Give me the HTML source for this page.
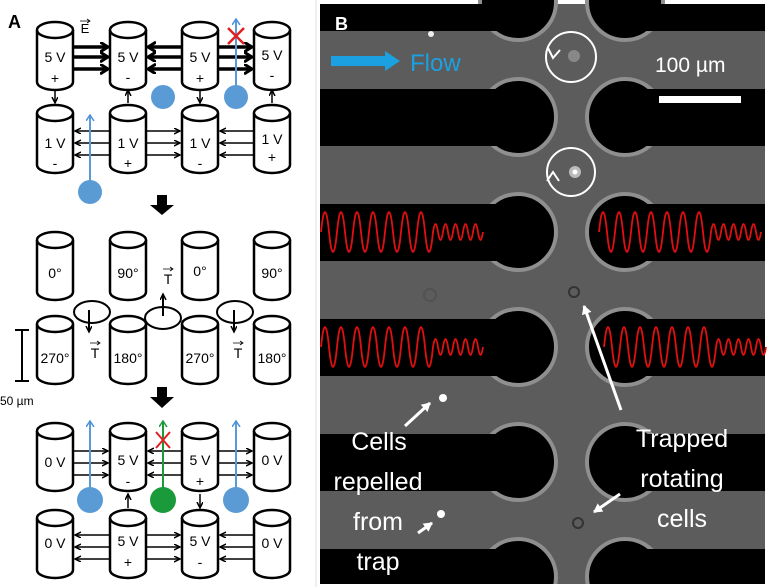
<!DOCTYPE html>
<html><head><meta charset="utf-8"><style>
body{margin:0;background:#fff}
svg{display:block}
text{font-family:"Liberation Sans",sans-serif}
</style></head><body>
<svg width="768" height="587" viewBox="0 0 768 587" xmlns="http://www.w3.org/2000/svg">
<defs>
<g id="cyl"><path d="M0,8 V60 A18,8 0 0 0 36,60 V8" fill="#fff" stroke="#000" stroke-width="2.5"/><ellipse cx="18" cy="8" rx="18" ry="8" fill="#fff" stroke="#000" stroke-width="2.5"/></g>
<marker id="ah" markerWidth="8" markerHeight="8" refX="6" refY="3" orient="auto" markerUnits="userSpaceOnUse"><path d="M0,0 L6,3 L0,6" fill="none" stroke="#000" stroke-width="1.5"/></marker>
<marker id="ahT" markerWidth="12" markerHeight="12" refX="8" refY="5" orient="auto" markerUnits="userSpaceOnUse"><path d="M0,0 L8,5 L0,10" fill="none" stroke="#000" stroke-width="3"/></marker>
<marker id="ahB" markerWidth="12" markerHeight="12" refX="6" refY="4" orient="auto" markerUnits="userSpaceOnUse"><path d="M0,0 L6,4 L0,8" fill="none" stroke="#4a90d9" stroke-width="1.5"/></marker>
<marker id="ahG" markerWidth="12" markerHeight="12" refX="6" refY="4" orient="auto" markerUnits="userSpaceOnUse"><path d="M0,0 L6,4 L0,8" fill="none" stroke="#1a9a3a" stroke-width="1.5"/></marker>
<marker id="ahW" markerWidth="14" markerHeight="14" refX="8" refY="5" orient="auto" markerUnits="userSpaceOnUse"><path d="M0,0 L9,5 L0,10 Z" fill="#fff"/></marker>
</defs>

<!-- PANEL A -->
<text x="8" y="28" font-size="18" font-weight="bold">A</text>
<!-- Section 1 -->
<g>
<use href="#cyl" x="37" y="22"/><use href="#cyl" x="110" y="22"/><use href="#cyl" x="182" y="22"/><use href="#cyl" x="254" y="22"/>
<use href="#cyl" x="37" y="105"/><use href="#cyl" x="110" y="105"/><use href="#cyl" x="182" y="105"/><use href="#cyl" x="254" y="105"/>
<g font-size="14" text-anchor="middle">
<text x="55" y="62">5 V</text><text x="128" y="62">5 V</text><text x="200" y="62">5 V</text><text x="272" y="60">5 V</text>
<text x="55" y="83">+</text><text x="128" y="82">-</text><text x="200" y="83">+</text><text x="272" y="80">-</text>
<text x="55" y="148">1 V</text><text x="128" y="148">1 V</text><text x="200" y="148">1 V</text><text x="272" y="144">1 V</text>
<text x="55" y="168">-</text><text x="128" y="168">+</text><text x="200" y="168">-</text><text x="272" y="162">+</text>
</g>
<text x="85" y="33" font-size="13" font-family="Liberation Serif" text-anchor="middle">E</text>
<path d="M80,21 H90 M87,19 L90,21 L87,23" fill="none" stroke="#000" stroke-width="0.8"/>
<g stroke="#000" stroke-width="3.5" marker-end="url(#ahT)">
<line x1="73" y1="47" x2="108" y2="47"/><line x1="73" y1="57" x2="108" y2="57"/><line x1="73" y1="69" x2="108" y2="69"/>
<line x1="182" y1="47" x2="148" y2="47"/><line x1="182" y1="57" x2="148" y2="57"/><line x1="182" y1="69" x2="148" y2="69"/>
<line x1="218" y1="47" x2="252" y2="47"/><line x1="218" y1="57" x2="252" y2="57"/><line x1="218" y1="69" x2="252" y2="69"/>
</g>
<g stroke="#000" stroke-width="1.5" marker-end="url(#ah)">
<line x1="110" y1="131" x2="75" y2="131"/><line x1="110" y1="143" x2="75" y2="143"/><line x1="110" y1="155" x2="75" y2="155"/>
<line x1="146" y1="131" x2="180" y2="131"/><line x1="146" y1="143" x2="180" y2="143"/><line x1="146" y1="155" x2="180" y2="155"/>
<line x1="254" y1="131" x2="220" y2="131"/><line x1="254" y1="143" x2="220" y2="143"/><line x1="254" y1="155" x2="220" y2="155"/>
<line x1="55" y1="90" x2="55" y2="103"/><line x1="128" y1="103" x2="128" y2="90"/><line x1="200" y1="90" x2="200" y2="103"/><line x1="272" y1="103" x2="272" y2="90"/>
</g>
<circle cx="163" cy="97" r="12" fill="#5b9bd5"/>
<line x1="236" y1="97" x2="236" y2="19" stroke="#5b9bd5" stroke-width="2" marker-end="url(#ahB)"/>
<circle cx="236" cy="97" r="12" fill="#5b9bd5"/>
<path d="M228,28 L244,44 M244,28 L228,44" stroke="#e02020" stroke-width="2.5"/>
<line x1="90" y1="192" x2="90" y2="115" stroke="#5b9bd5" stroke-width="2" marker-end="url(#ahB)"/>
<circle cx="90" cy="192" r="12" fill="#5b9bd5"/>
<path d="M157,195 H167 V205 H174 L162,215 L150,205 H157 Z" fill="#000"/>
</g>

<!-- Section 2 -->
<g>
<g fill="none" stroke="#000" stroke-width="2">
<ellipse cx="92" cy="312" rx="18" ry="11"/><ellipse cx="163" cy="318" rx="18" ry="11"/><ellipse cx="235" cy="312" rx="18" ry="11"/>
</g>
<use href="#cyl" x="37" y="232"/><use href="#cyl" x="110" y="232"/><use href="#cyl" x="182" y="232"/><use href="#cyl" x="254" y="232"/>
<use href="#cyl" x="37" y="316"/><use href="#cyl" x="110" y="316"/><use href="#cyl" x="182" y="316"/><use href="#cyl" x="254" y="316"/>
<g font-size="14" text-anchor="middle">
<text x="55" y="278">0°</text><text x="128" y="278">90°</text><text x="200" y="276">0°</text><text x="272" y="278">90°</text>
<text x="55" y="363">270°</text><text x="128" y="363">180°</text><text x="200" y="363">270°</text><text x="272" y="363">180°</text>
</g>
<g stroke="#000" stroke-width="2" marker-end="url(#ah)">
<line x1="89" y1="310" x2="89" y2="332"/><line x1="163" y1="316" x2="163" y2="294"/><line x1="234" y1="310" x2="234" y2="332"/>
</g>
<g font-family="Liberation Serif" font-size="14" text-anchor="middle">
<text x="95" y="358">T</text><text x="168" y="284">T</text><text x="238" y="358">T</text>
</g>
<path d="M90,343 H100 M97,341 L100,343 L97,345 M163,269 H173 M170,267 L173,269 L170,271 M233,343 H243 M240,341 L243,343 L240,345" fill="none" stroke="#000" stroke-width="0.8"/>
<path d="M15,330 H29 M22,330 V381 M15,381 H29" stroke="#000" stroke-width="2" fill="none"/>
<text x="0" y="405" font-size="12">50 µm</text>
<path d="M157,387 H167 V397 H174 L162,408 L150,397 H157 Z" fill="#000"/>
</g>

<!-- Section 3 -->
<g>
<use href="#cyl" x="37" y="423"/><use href="#cyl" x="110" y="423"/><use href="#cyl" x="182" y="423"/><use href="#cyl" x="254" y="423"/>
<use href="#cyl" x="37" y="510"/><use href="#cyl" x="110" y="510"/><use href="#cyl" x="182" y="510"/><use href="#cyl" x="254" y="510"/>
<g font-size="14" text-anchor="middle">
<text x="55" y="467">0 V</text><text x="128" y="465">5 V</text><text x="200" y="465">5 V</text><text x="272" y="465">0 V</text>
<text x="128" y="486">-</text><text x="200" y="486">+</text>
<text x="55" y="548">0 V</text><text x="128" y="546">5 V</text><text x="200" y="546">5 V</text><text x="272" y="548">0 V</text>
<text x="128" y="567">+</text><text x="200" y="567">-</text>
</g>
<g stroke="#000" stroke-width="1.5" marker-end="url(#ah)">
<line x1="73" y1="451" x2="108" y2="451"/><line x1="73" y1="463" x2="108" y2="463"/><line x1="73" y1="475" x2="108" y2="475"/>
<line x1="182" y1="451" x2="148" y2="451"/><line x1="182" y1="463" x2="148" y2="463"/><line x1="182" y1="475" x2="148" y2="475"/>
<line x1="218" y1="451" x2="252" y2="451"/><line x1="218" y1="463" x2="252" y2="463"/><line x1="218" y1="475" x2="252" y2="475"/>
<line x1="110" y1="535" x2="75" y2="535"/><line x1="110" y1="547" x2="75" y2="547"/><line x1="110" y1="559" x2="75" y2="559"/>
<line x1="146" y1="535" x2="180" y2="535"/><line x1="146" y1="547" x2="180" y2="547"/><line x1="146" y1="559" x2="180" y2="559"/>
<line x1="254" y1="535" x2="220" y2="535"/><line x1="254" y1="547" x2="220" y2="547"/><line x1="254" y1="559" x2="220" y2="559"/>
<line x1="128" y1="508" x2="128" y2="494"/><line x1="200" y1="494" x2="200" y2="508"/>
</g>
<line x1="90" y1="500" x2="90" y2="421" stroke="#5b9bd5" stroke-width="2" marker-end="url(#ahB)"/>
<circle cx="90" cy="500" r="13" fill="#5b9bd5"/>
<line x1="236" y1="500" x2="236" y2="421" stroke="#5b9bd5" stroke-width="2" marker-end="url(#ahB)"/>
<circle cx="236" cy="500" r="13" fill="#5b9bd5"/>
<line x1="163" y1="500" x2="163" y2="421" stroke="#1a9a3a" stroke-width="2" marker-end="url(#ahG)"/>
<circle cx="163" cy="500" r="13" fill="#1a9a3a"/>
<path d="M156,432 L170,448 M170,432 L156,448" stroke="#e02020" stroke-width="2"/>
</g>
<line x1="316" y1="0" x2="316" y2="587" stroke="#ddd" stroke-width="1"/>

<!-- PANEL B -->
<g>
<rect x="320" y="4" width="445" height="580" fill="#5c5c5c"/>
<g fill="#000" stroke="#8f8f8f" stroke-width="4">
<circle cx="518" cy="2" r="38"/><circle cx="625" cy="2" r="38"/>
<circle cx="518" cy="117" r="38"/><circle cx="625" cy="117" r="38"/>
<circle cx="518" cy="232" r="38"/><circle cx="625" cy="232" r="38"/>
<circle cx="518" cy="347" r="38"/><circle cx="625" cy="347" r="38"/>
<circle cx="518" cy="462" r="38"/><circle cx="625" cy="462" r="38"/>
<circle cx="518" cy="577" r="38"/><circle cx="625" cy="577" r="38"/>
</g>
<g fill="#000">
<rect x="320" y="4" width="198" height="27"/><rect x="625" y="4" width="140" height="27"/>
<rect x="320" y="89" width="198" height="57"/><rect x="625" y="89" width="140" height="57"/>
<rect x="320" y="204" width="198" height="57"/><rect x="625" y="204" width="140" height="57"/>
<rect x="320" y="319" width="198" height="57"/><rect x="625" y="319" width="140" height="57"/>
<rect x="320" y="434" width="198" height="57"/><rect x="625" y="434" width="140" height="57"/>
<rect x="320" y="549" width="198" height="35"/><rect x="625" y="549" width="140" height="35"/>
<rect x="318" y="584" width="450" height="3" fill="#fff"/>
</g>
<g fill="none" stroke="#e01010" stroke-width="1.8">
<path d="M321,232 q4,-40 8,0 q4,40 8,0 q4,-40 8,0 q4,40 8,0 q4,-40 8,0 q4,40 8,0 q4,-40 8,0 q4,40 8,0 q4,-40 8,0 q4,40 8,0 q4,-40 8,0 q4,40 8,0 q4,-40 8,0 q4,40 8,0 q2.5,-16 5,0 q2.5,16 5,0 q2.5,-16 5,0 q2.5,16 5,0 q2.5,-16 5,0 q2.5,16 5,0 q2.5,-16 5,0 q2.5,16 5,0 q2.5,-16 5,0 q2.5,16 5,0"/>
<path d="M599,232 q4,-40 8,0 q4,40 8,0 q4,-40 8,0 q4,40 8,0 q4,-40 8,0 q4,40 8,0 q4,-40 8,0 q4,40 8,0 q4,-40 8,0 q4,40 8,0 q4,-40 8,0 q4,40 8,0 q4,-40 8,0 q4,40 8,0 q2.5,-16 5,0 q2.5,16 5,0 q2.5,-16 5,0 q2.5,16 5,0 q2.5,-16 5,0 q2.5,16 5,0 q2.5,-16 5,0 q2.5,16 5,0 q2.5,-16 5,0 q2.5,16 5,0"/>
<path d="M321,347 q4,-40 8,0 q4,40 8,0 q4,-40 8,0 q4,40 8,0 q4,-40 8,0 q4,40 8,0 q4,-40 8,0 q4,40 8,0 q4,-40 8,0 q4,40 8,0 q4,-40 8,0 q4,40 8,0 q4,-40 8,0 q4,40 8,0 q2.5,-16 5,0 q2.5,16 5,0 q2.5,-16 5,0 q2.5,16 5,0 q2.5,-16 5,0 q2.5,16 5,0 q2.5,-16 5,0 q2.5,16 5,0 q2.5,-16 5,0 q2.5,16 5,0"/>
<path d="M604,347 q4,-40 8,0 q4,40 8,0 q4,-40 8,0 q4,40 8,0 q4,-40 8,0 q4,40 8,0 q4,-40 8,0 q4,40 8,0 q4,-40 8,0 q4,40 8,0 q4,-40 8,0 q4,40 8,0 q4,-40 8,0 q4,40 8,0 q2.5,-16 5,0 q2.5,16 5,0 q2.5,-16 5,0 q2.5,16 5,0 q2.5,-16 5,0 q2.5,16 5,0 q2.5,-16 5,0 q2.5,16 5,0 q2.5,-16 5,0 q2.5,16 5,0"/>
</g>
<!-- cells -->
<circle cx="431" cy="34" r="3" fill="#eee"/>
<circle cx="574" cy="56" r="6" fill="#888"/><circle cx="575" cy="172" r="6" fill="#bbb"/><circle cx="575" cy="172" r="2.5" fill="#fff"/>
<circle cx="574" cy="292" r="5" fill="none" stroke="#333" stroke-width="2"/>
<circle cx="578" cy="523" r="5" fill="none" stroke="#333" stroke-width="2"/>
<circle cx="430" cy="295" r="6" fill="none" stroke="#525252" stroke-width="2"/>
<circle cx="443" cy="398" r="4" fill="#fff"/><circle cx="441" cy="514" r="4" fill="#fff"/>
<!-- rotation circles -->
<g fill="none" stroke="#fff" stroke-width="2">
<circle cx="571" cy="57" r="25"/><path d="M548,48 L553,58 L560,50"/>
<circle cx="571" cy="172" r="24"/><path d="M547,181 L553,172 L559,181"/>
</g>
<text x="335" y="30" font-size="18" font-weight="bold" fill="#fff">B</text>
<path d="M331,56 H385 V51 L400,61 L385,71 V66 H331 Z" fill="#1ba1e2"/>
<text x="410" y="71" font-size="24" fill="#1ba1e2">Flow</text>
<text x="655" y="72" font-size="21" fill="#fff">100 µm</text>
<rect x="659" y="96" width="82" height="7" fill="#fff"/>
<g stroke="#fff" stroke-width="3" marker-end="url(#ahW)">
<line x1="621" y1="410" x2="584" y2="306"/>
<line x1="620" y1="494" x2="594" y2="512"/>
<line x1="405" y1="426" x2="430" y2="403"/>
<line x1="418" y1="533" x2="432" y2="523"/>
</g>
<g font-size="25" fill="#fff" text-anchor="middle">
<text x="379" y="450">Cells</text><text x="378" y="490">repelled</text><text x="378" y="530">from</text><text x="378" y="570">trap</text>
<text x="682" y="447">Trapped</text><text x="682" y="487">rotating</text><text x="682" y="527">cells</text>
</g>
</g>
</svg>
</body></html>
